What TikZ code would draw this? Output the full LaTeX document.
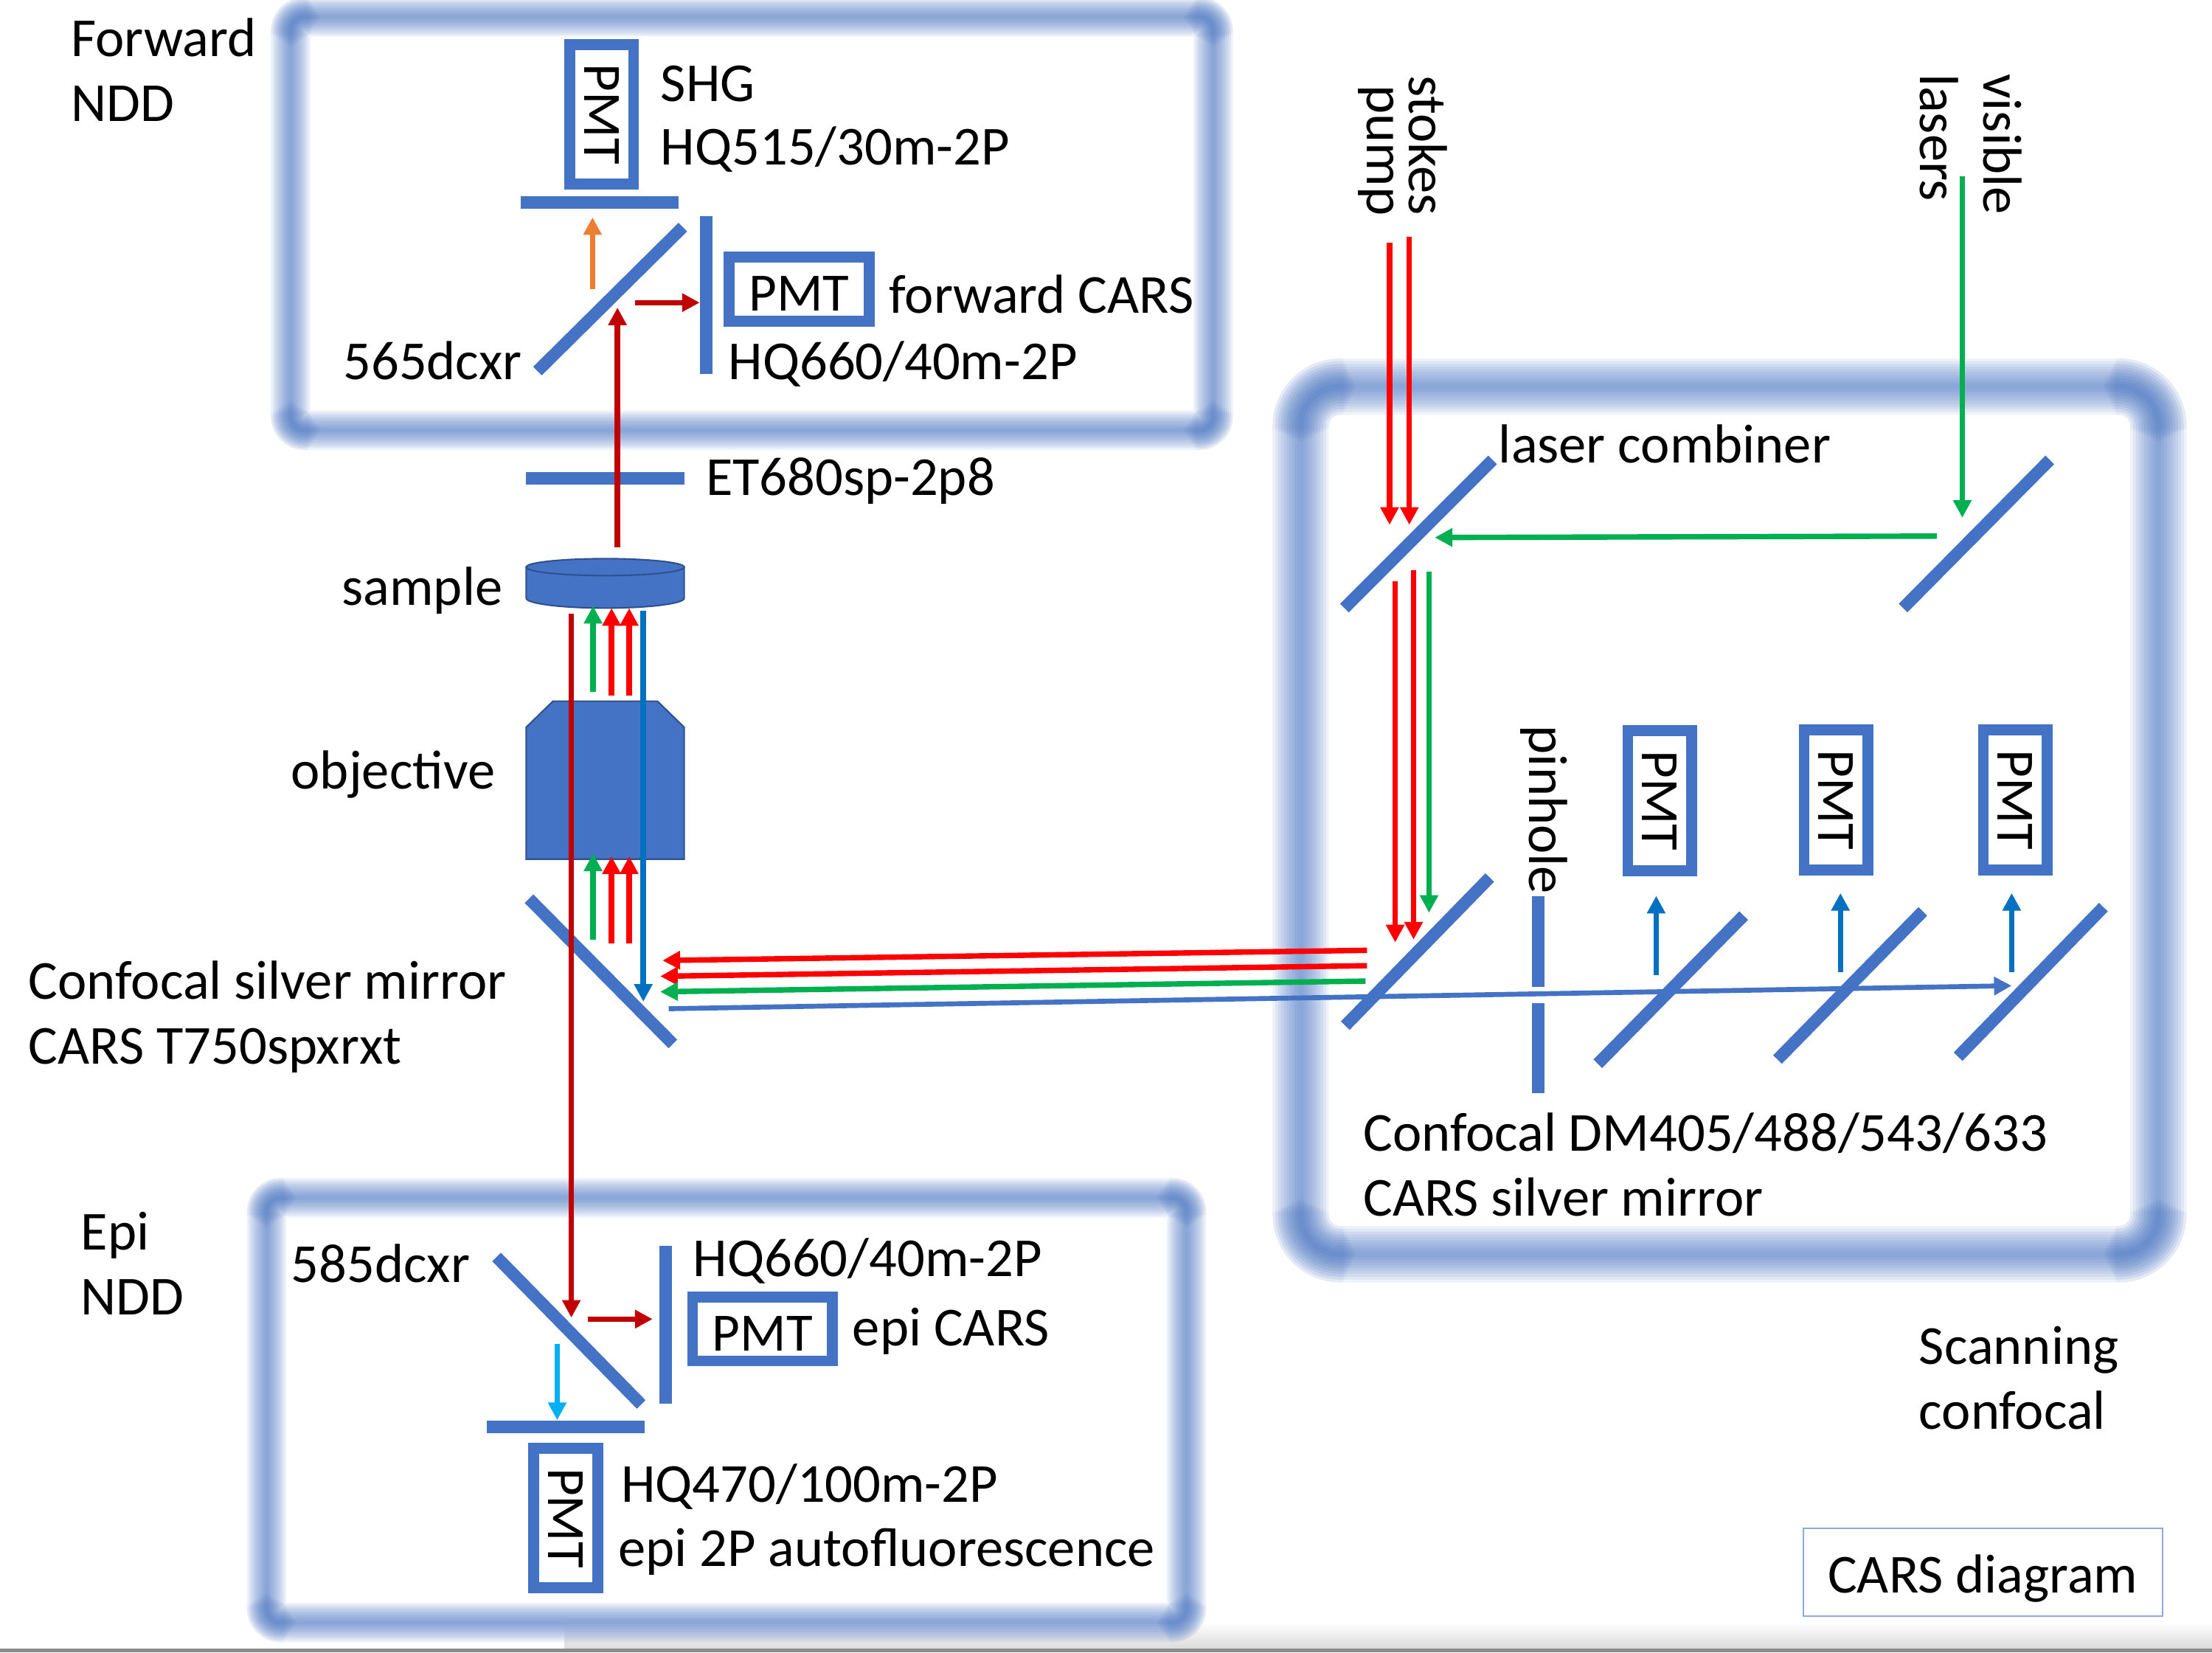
\documentclass[tikz,border=0pt]{standalone}
\usepackage{fontspec}
\setmainfont{Carlito}
\usetikzlibrary{arrows.meta}
\definecolor{bl}{HTML}{4472C4}
\definecolor{bld}{HTML}{2F528F}
\definecolor{dred}{HTML}{C00000}
\definecolor{rd}{HTML}{FF0000}
\definecolor{gr}{HTML}{00B050}
\definecolor{bb}{HTML}{0070C0}
\definecolor{org}{HTML}{ED7D31}
\definecolor{sky}{HTML}{00B0F0}
\newcommand{\softframe}[6]{%
  \foreach \w/\L in {1.0/2,0.9/3,0.8/4,0.7/5,0.6/6,0.5/7,0.4/8,0.3/9,0.2/10,0.1/11}{%
    \draw[bl,opacity=.085,line width=\w*#6*0.5437pt,rounded corners=#5*0.5437pt] (#1,#2) rectangle (#3,#4);
    \draw[bl,opacity=.05,line width=\w*#6*0.5437pt,rounded corners=#5*0.5437pt]
      ({#1+#5+\L},#2) -- (#1,#2) -- (#1,{#2+#5+\L})
      ({#3-#5-\L},#2) -- (#3,#2) -- (#3,{#2+#5+\L})
      ({#1+#5+\L},#4) -- (#1,#4) -- (#1,{#4-#5-\L})
      ({#3-#5-\L},#4) -- (#3,#4) -- (#3,{#4-#5-\L});
  }}
\tikzset{
  lbl/.style={anchor=base west,inner sep=0pt,yshift=-0.55pt,font=\fontsize{21.2pt}{24pt}\selectfont,text=black},
  vlbl/.style={lbl,rotate=-90},
  pmtbox/.style={draw=bl,fill=white,line width=4.2pt,inner sep=0pt,font=\fontsize{20.8pt}{22pt}\selectfont,minimum width=53.9pt,minimum height=24.6pt,text=black},
  mirrorbar/.style={bl,line width=4.7pt},
  filterbar/.style={bl,line width=4.9pt},
  beam/.style={line width=2.1pt,-{Triangle[length=6.8pt,width=6.8pt]}},
  plain/.style={line width=2.1pt},
}
\begin{document}
\begin{tikzpicture}[x=0.019126cm,y=-0.019126cm]
\useasboundingbox (0,0) rectangle (1568,1171.2);
\fill[white] (0,0) rectangle (1568,1171.2);
\shade[top color=white,bottom color=black!14] (400,1150) rectangle (1568,1168.5);
\fill[black!45] (0,1168.5) rectangle (1568,1171.2);
\softframe{206}{12}{860}{305}{10}{28}
\softframe{922}{274}{1530}{889}{28}{40}
\softframe{189}{849}{841}{1150}{10}{28}

% coordinates
\coordinate (mfA) at (381,263); \coordinate (mfB) at (484,161);
\coordinate (fshgA) at (369,143.5); \coordinate (fshgB) at (481,143.5);
\coordinate (fcA) at (500.5,153); \coordinate (fcB) at (500.5,265);
\coordinate (etA) at (373,339); \coordinate (etB) at (485,339);
\coordinate (mcA) at (375,637); \coordinate (mcB) at (477,740);
\coordinate (mlA) at (953,431); \coordinate (mlB) at (1058,326);
\coordinate (mvA) at (1349,431); \coordinate (mvB) at (1453,326);
\coordinate (m1A) at (953.6,727); \coordinate (m1B) at (1056,622);
\coordinate (m2A) at (1132.6,754); \coordinate (m2B) at (1236,649);
\coordinate (m3A) at (1260,751); \coordinate (m3B) at (1363,646);
\coordinate (m4A) at (1388,749); \coordinate (m4B) at (1491,643);
\coordinate (phA) at (1090.5,635); \coordinate (phB) at (1090.5,699.5);
\coordinate (phC) at (1090.5,711); \coordinate (phD) at (1090.5,775);
\coordinate (meA) at (352,891); \coordinate (meB) at (454.5,995.5);
\coordinate (feA) at (472,883); \coordinate (feB) at (472,995);
\coordinate (fhA) at (345,1011.5); \coordinate (fhB) at (457,1011.5);

% optics
\draw[mirrorbar] (mfA) -- (mfB);
\draw[mirrorbar] (mcA) -- (mcB);
\draw[mirrorbar] (mlA) -- (mlB);
\draw[mirrorbar] (mvA) -- (mvB);
\draw[mirrorbar] (m1A) -- (m1B);
\draw[mirrorbar] (m2A) -- (m2B);
\draw[mirrorbar] (m3A) -- (m3B);
\draw[mirrorbar] (m4A) -- (m4B);
\draw[mirrorbar] (meA) -- (meB);
\draw[filterbar] (fshgA) -- (fshgB);
\draw[filterbar] (etA) -- (etB);
\draw[filterbar] (fhA) -- (fhB);
\draw[filterbar] (fcA) -- (fcB);
\draw[filterbar] (feA) -- (feB);
\draw[filterbar] (phA) -- (phB);
\draw[filterbar] (phC) -- (phD);

% sample and objective
\draw[fill=bl,draw=bld,line width=.6pt] (373,402) -- (373,424) arc[start angle=180,end angle=0,x radius=56,y radius=7] -- (485,402) -- cycle;
\draw[fill=bl,draw=bld,line width=.6pt] (429,402) ellipse[x radius=56,y radius=6];
\draw[fill=bl,draw=bld,line width=.6pt] (373,515.5) -- (392,497) -- (466,497) -- (485,515.5) -- (485,609) -- (373,609) -- cycle;

% PMTs
\node[pmtbox,rotate=-90] (pmtshg) at (426.5,81) {PMT};
\node[pmtbox] (pmtfwd) at (566.5,205) {\raisebox{-8.5pt}[0pt][0pt]{PMT}};
\node[pmtbox,rotate=-90] (pmtA) at (1176.5,567.5) {PMT};
\node[pmtbox,rotate=-90] (pmtB) at (1301.5,567) {PMT};
\node[pmtbox,rotate=-90] (pmtC) at (1428.5,567) {PMT};
\node[pmtbox] (pmtepi) at (540.5,942) {\raisebox{-8.5pt}[0pt][0pt]{PMT}};
\node[pmtbox,rotate=-90] (pmtauto) at (401,1076) {PMT};

% beam coordinates
\coordinate (a1) at (420,205); \coordinate (a2) at (420,154);
\coordinate (a3) at (450,214.5); \coordinate (a4) at (496,214.5);
\coordinate (a5) at (437.7,388); \coordinate (a6) at (437.7,218);
\coordinate (g1) at (420.4,490.6); \coordinate (g2) at (420.4,429.5);
\coordinate (r1) at (433.5,493); \coordinate (r2) at (433.5,431);
\coordinate (r3) at (446,493); \coordinate (r4) at (446,431);
\coordinate (g3) at (420.4,666); \coordinate (g4) at (420.4,605);
\coordinate (r5) at (433.5,668.5); \coordinate (r6) at (433.5,607);
\coordinate (r7) at (446,668.5); \coordinate (r8) at (446,607);
\coordinate (d1) at (405,435); \coordinate (d2) at (405,934);
\coordinate (b1) at (456,433); \coordinate (b2) at (456,710);
\coordinate (h1) at (969,673.6); \coordinate (h2) at (469.6,680.8);
\coordinate (h3) at (969,684.5); \coordinate (h4) at (468,692);
\coordinate (h5) at (968,695.4); \coordinate (h6) at (468,703);
\coordinate (h7) at (474,715); \coordinate (h8) at (1426,698.7);
\coordinate (t1) at (985,172); \coordinate (t2) at (985,372);
\coordinate (t3) at (999,168); \coordinate (t4) at (999,372);
\coordinate (t5) at (989,412); \coordinate (t6) at (989,668);
\coordinate (t7) at (1002,404); \coordinate (t8) at (1002,666);
\coordinate (t9) at (1013,405); \coordinate (t10) at (1013,647);
\coordinate (v1) at (1391,125); \coordinate (v2) at (1391,367);
\coordinate (v3) at (1373,380); \coordinate (v4) at (1017,381);
\coordinate (s1) at (1174,691); \coordinate (s2) at (1174,635);
\coordinate (s3) at (1304.6,689); \coordinate (s4) at (1304.6,633);
\coordinate (s5) at (1426,689); \coordinate (s6) at (1426,633);
\coordinate (e1) at (416.8,935); \coordinate (e2) at (462.6,935);
\coordinate (e3) at (395,952.6); \coordinate (e4) at (395,1006.6);

% beams
\draw[beam,org] (a1) -- (a2);
\draw[beam,dred] (a3) -- (a4);
\draw[beam,dred] (a5) -- (a6);
\draw[beam,gr] (g1) -- (g2);
\draw[beam,rd] (r1) -- (r2);
\draw[beam,rd] (r3) -- (r4);
\draw[beam,gr] (g3) -- (g4);
\draw[beam,rd] (r5) -- (r6);
\draw[beam,rd] (r7) -- (r8);
\draw[beam,bb] (b1) -- (b2);
\draw[beam,dred] (d1) -- (d2);
\draw[beam,rd] (h1) -- (h2);
\draw[beam,rd] (h3) -- (h4);
\draw[beam,gr] (h5) -- (h6);
\draw[beam,bl,line width=1.9pt] (h7) -- (h8);
\draw[beam,rd] (t1) -- (t2);
\draw[beam,rd] (t3) -- (t4);
\draw[beam,rd] (t5) -- (t6);
\draw[beam,rd] (t7) -- (t8);
\draw[beam,gr] (t9) -- (t10);
\draw[beam,gr] (v1) -- (v2);
\draw[beam,gr] (v3) -- (v4);
\draw[beam,bb] (s1) -- (s2);
\draw[beam,bb] (s3) -- (s4);
\draw[beam,bb] (s5) -- (s6);
\draw[beam,dred] (e1) -- (e2);
\draw[beam,sky] (e3) -- (e4);

% labels
\node[lbl] (t01) at (50,39) {Forward};
\node[lbl] (t02) at (50,85) {NDD};
\node[lbl] (t03) at (468,71) {SHG};
\node[lbl] (t04) at (468,116) {HQ515/30m-2P};
\node[lbl] (t05) at (630,221) {forward CARS};
\node[lbl] (t06) at (243,268) {565dcxr};
\node[lbl] (t07) at (516,268) {HQ660/40m-2P};
\node[lbl] (t08) at (500,350) {ET680sp-2p8};
\node[lbl] (t09) at (242,428) {sample};
\node[lbl] (t10) at (206,558) {objective};
\node[lbl] (t11) at (20,707) {Confocal silver mirror};
\node[lbl] (t12) at (20,753) {CARS T750spxrxt};
\node[lbl] (t13) at (1062,327) {laser combiner};
\node[lbl] (t14) at (966,815) {Confocal DM405/488/543/633};
\node[lbl] (t15) at (966,861) {CARS silver mirror};
\node[lbl] (t16) at (57,885) {Epi};
\node[lbl] (t17) at (57,931) {NDD};
\node[lbl] (t18) at (206,908) {585dcxr};
\node[lbl] (t19) at (491,904) {HQ660/40m-2P};
\node[lbl] (t20) at (604,953) {epi CARS};
\node[lbl] (t21) at (440,1064) {HQ470/100m-2P};
\node[lbl] (t22) at (438,1109) {epi 2P autofluorescence};
\node[lbl] (t23) at (1360,966) {Scanning};
\node[lbl] (t24) at (1360,1012) {confocal};
\node[vlbl] (t25) at (969,59) {pump};
\node[vlbl] (t26) at (999,52) {stokes};
\node[vlbl] (t27) at (1361,51) {lasers};
\node[vlbl] (t28) at (1406,51) {visible};
\node[vlbl] (t29) at (1084,513) {pinhole};
\node[draw=bl!60,line width=.6pt,inner sep=0pt,fill=white,minimum width=138.6pt,minimum height=34pt,font=\fontsize{21.2pt}{24pt}\selectfont] (t30) at (1405.5,1114.5) {\raisebox{-8pt}[0pt][0pt]{CARS diagram}};
\end{tikzpicture}
\end{document}
